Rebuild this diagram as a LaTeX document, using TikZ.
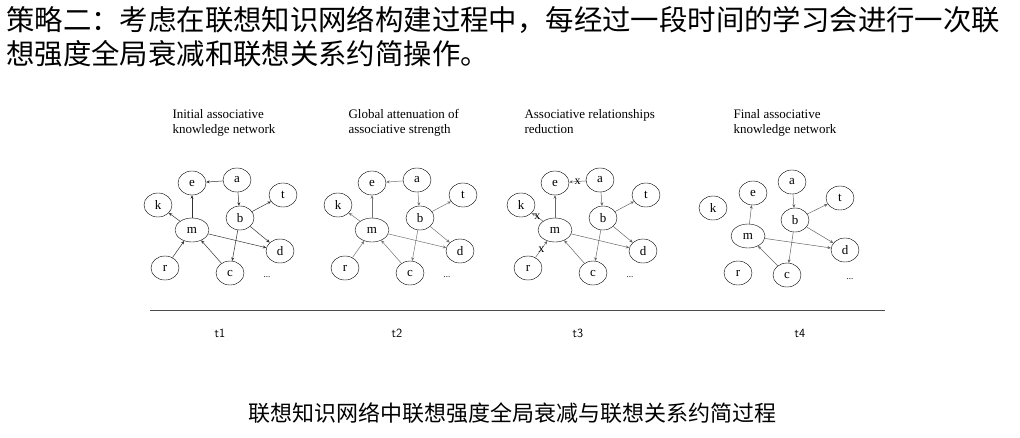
\documentclass[tikz,border=0pt]{standalone}
\usepackage{fontspec}
\setmainfont{Liberation Serif}
\newfontfamily\cjk{Noto Sans CJK SC}
\usetikzlibrary{shapes.geometric,arrows.meta,positioning}
\tikzset{
  kn/.style={draw,ellipse,minimum width=28pt,minimum height=24pt,inner sep=0pt,font=\fontsize{13}{13}\selectfont},
  ln/.style={draw=black!80,line width=0.5pt,-{Stealth[length=3.5pt,width=3pt]}},
  cut/.style={font=\fontsize{12}{12}\selectfont},
  ttl/.style={anchor=north west,align=left,font=\fontsize{13}{14.5}\selectfont}
}
% one network (t1 to t3 layout)
\newcommand{\knnodes}{%
\node[kn] (e) at (192,183) {e};
\node[kn] (a) at (237,180) {a};
\node[kn] (t) at (283,195) {t};
\node[kn] (k) at (158,205) {k};
\node[kn] (b) at (240,218) {b};
\node[kn,minimum width=34pt] (m) at (192,230) {m};
\node[kn] (d) at (280,251) {d};
\node[kn] (r) at (165,268) {r};
\node[kn] (c) at (230,273) {c};
\node (dots) at (267,277) {\fontsize{9}{9}\selectfont ...};
\draw[ln] (a) -- (b);
\draw[ln] (b) -- (t);
\draw[ln] (b) -- (d);
\draw[ln] (b) -- (c);
\draw[ln] (m) -- (e);
\draw[ln] (m) -- (d);
\draw[ln] (c) -- (m);
}
\begin{document}
\begin{tikzpicture}[x=1pt,y=-1pt]
\useasboundingbox (0,0) rectangle (1020,437);
\node[anchor=west,inner sep=0pt,font=\cjk\fontsize{28.4}{28.4}\selectfont] (l1) at (6,20) {策略二：考虑在联想知识网络构建过程中，每经过一段时间的学习会进行一次联};
\node[anchor=west,inner sep=0pt,font=\cjk\fontsize{28.4}{28.4}\selectfont] (l2) at (6,54) {想强度全局衰减和联想关系约简操作。};

% t1
\begin{scope}[name prefix=g1-]
\knnodes
\draw[ln] (a) -- (e);
\draw[ln] (m) -- (k);
\draw[ln] (r) -- (m);
\end{scope}
% t2
\begin{scope}[xshift=180pt,name prefix=g2-,ln/.append style={draw=black!55}]
\knnodes
\draw[ln] (a) -- (e);
\draw[ln] (m) -- (k);
\draw[ln] (r) -- (m);
\end{scope}
% t3
\begin{scope}[xshift=363pt,name prefix=g3-,ln/.append style={draw=black!60}]
\knnodes
\draw[ln] (a) -- node[cut]{x} (e);
\draw[ln] (m) -- node[cut]{x} (k);
\draw[ln] (r) -- node[cut]{x} (m);
\end{scope}
% t4
\begin{scope}[name prefix=g4-,ln/.append style={draw=black!60}]
\node[kn] (e) at (753,193) {e};
\node[kn] (a) at (792,182) {a};
\node[kn] (t) at (840,198) {t};
\node[kn] (k) at (713,208) {k};
\node[kn] (b) at (795,220) {b};
\node[kn,minimum width=34pt] (m) at (748,236) {m};
\node[kn] (d) at (845,250) {d};
\node[kn] (r) at (738,273) {r};
\node[kn] (c) at (787,275) {c};
\node (dots) at (850,279) {\fontsize{9}{9}\selectfont ...};
\draw[ln] (a) -- (b);
\draw[ln] (b) -- (t);
\draw[ln] (b) -- (d);
\draw[ln] (b) -- (c);
\draw[ln] (m) -- (e);
\draw[ln] (m) -- (d);
\draw[ln] (c) -- (m);
\end{scope}

\node[ttl] (h1) at (169,106) {Initial associative\\knowledge network};
\node[ttl] (h2) at (345,106) {Global attenuation of\\associative strength};
\node[ttl] (h3) at (521,106) {Associative relationships\\reduction};
\node[ttl] (h4) at (730,106) {Final associative\\knowledge network};

\coordinate (axl) at (150,310);
\coordinate (axr) at (885,310);
\draw[black!70,line width=0.6pt] (axl) -- (axr);
\foreach \x/\t in {220/t1,397/t2,578/t3,800/t4}
  \node[font=\sffamily\fontsize{12.5}{12.5}\selectfont] (\t) at (\x,333) {\t};

\node[font=\cjk\fontsize{22}{22}\selectfont] (cap) at (512,413) {联想知识网络中联想强度全局衰减与联想关系约简过程};
\end{tikzpicture}
\end{document}
